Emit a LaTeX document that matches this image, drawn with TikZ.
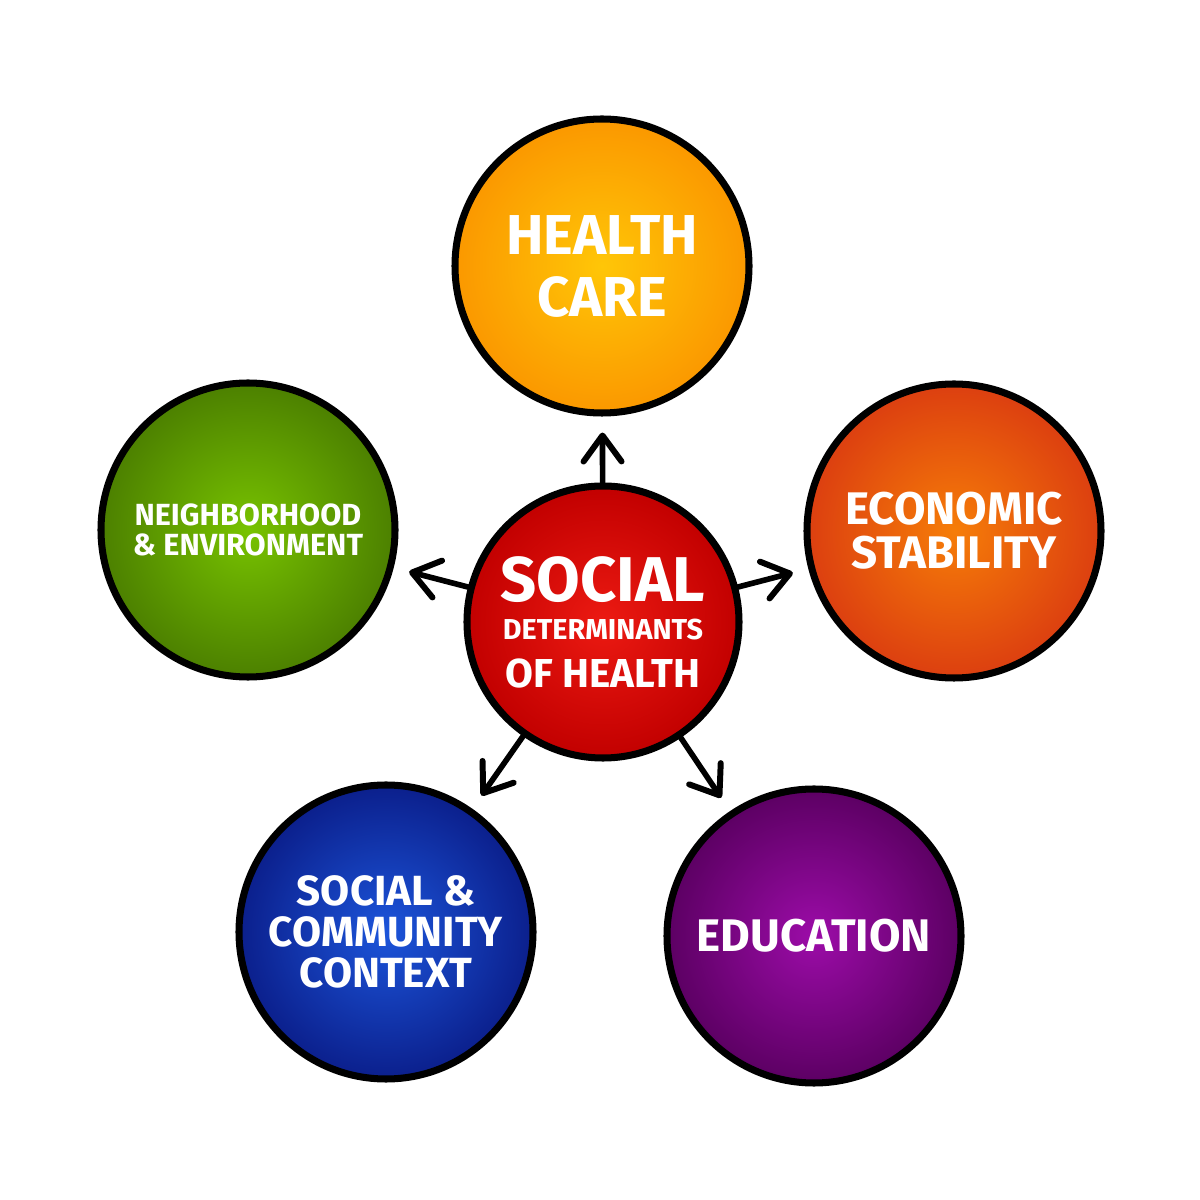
\documentclass[tikz,border=0pt]{standalone}
\usepackage{fontspec}
\setmainfont{Fira Sans}
\usetikzlibrary{arrows.meta}

\definecolor{careIn}{HTML}{FFC607}
\definecolor{careOut}{HTML}{FB9800}
\definecolor{econIn}{HTML}{F67D08}
\definecolor{econOut}{HTML}{DC3F10}
\definecolor{hoodIn}{HTML}{78C300}
\definecolor{hoodOut}{HTML}{4C8000}
\definecolor{commIn}{HTML}{1C55DA}
\definecolor{commOut}{HTML}{0B1F8C}
\definecolor{eduIn}{HTML}{9C0CA8}
\definecolor{eduOut}{HTML}{5C0063}
\definecolor{sdhIn}{HTML}{EC1A12}
\definecolor{sdhOut}{HTML}{C20000}

\begin{document}
\begin{tikzpicture}[->,>={Straight Barb[round,length=2.6mm,width=3.8mm,line width=1.7pt]},shorten >=0.16cm,line width=1.6pt,line cap=round,
    hub/.style={circle,draw,line width=2pt,minimum size=2.72cm,inner sep=0pt,text=white,align=center},
    topic/.style 2 args={hub,minimum size=2.94cm,font=\bfseries\fontsize{#1}{#2}\selectfont}]

    \useasboundingbox (0,0) rectangle (12,12);

    \node[hub,font=\bfseries,inner color=sdhIn,outer color=sdhOut] (sdh) at (6.03,5.78)
        {\fontsize{18}{18}\selectfont SOCIAL\\[-1pt]
         \fontsize{8.2}{9.6}\selectfont DETERMINANTS\\[1.5pt]
         \fontsize{11.5}{11.5}\selectfont OF HEALTH};

    \node[topic={16}{17.5},inner color=careIn,outer color=careOut,text depth=-0.12cm] (care) at (6.02,9.34) {HEALTH\\CARE};
    \node[topic={13}{12.5},inner color=econIn,outer color=econOut] (econ) at (9.54,6.69) {ECONOMIC\\STABILITY};
    \node[topic={8.7}{8.6},inner color=hoodIn,outer color=hoodOut] (hood) at (2.48,6.70) {NEIGHBORHOOD\\\&~ENVIRONMENT};
    \node[topic={12}{11.6},inner color=commIn,outer color=commOut] (comm) at (3.86,2.68) {SOCIAL \&\\COMMUNITY\\CONTEXT};
    \node[topic={13}{13},inner color=eduIn,outer color=eduOut] (edu) at (8.14,2.64) {EDUCATION};

    \foreach \topic in {care,econ,hood,comm,edu}{
        \path (sdh) edge (\topic);
    }

\end{tikzpicture}
\end{document}
